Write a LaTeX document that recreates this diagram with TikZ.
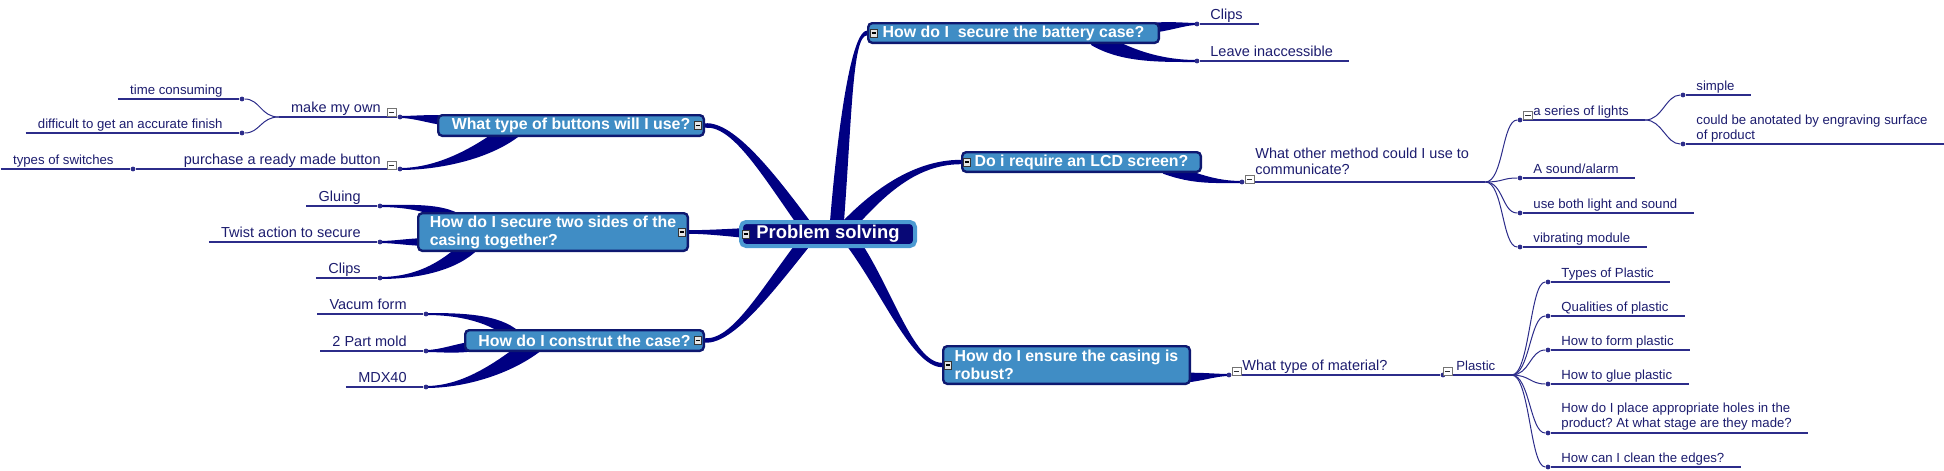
\documentclass[tikz,border=0pt]{standalone}
\usepackage{fontspec}
\setmainfont{Liberation Sans}
\usepackage{tikz}
\usetikzlibrary{calc,backgrounds}
\usepackage{xcolor}
\definecolor{branchcol}{RGB}{0,0,130}
\definecolor{topicfill}{RGB}{64,141,197}
\definecolor{topicedge}{RGB}{14,24,112}
\definecolor{rootfill}{RGB}{8,8,118}
\definecolor{rootedge}{RGB}{76,154,210}
\definecolor{leafcol}{RGB}{28,28,110}
\definecolor{linecol}{RGB}{44,44,138}
\frenchspacing
% tapered branch: start, control, control, end, start half-width, end half-width
\newcommand{\branchfill}[6]{%
  \fill[branchcol] ($(#1)!#5!90:(#2)$) .. controls ($(#2)!#5!-90:(#1)$) and ($(#3)!#6!90:(#4)$) .. ($(#4)!#6!-90:(#3)$)
    -- ($(#4)!#6!90:(#3)$) .. controls ($(#3)!#6!-90:(#4)$) and ($(#2)!#5!90:(#1)$) .. ($(#1)!#5!-90:(#2)$) -- cycle;}
\tikzset{
  % central topic
  rootbox/.style={rectangle, rounded corners=2.5pt, draw=rootedge, line width=2pt, fill=rootfill, text=white,
                  font=\bfseries\fontsize{9.2}{11}\selectfont, minimum width=87pt, minimum height=12pt, inner sep=0.5pt},
  % main topic box
  tbox/.style={rectangle, rounded corners=2pt, draw=topicedge, line width=1.2pt, fill=topicfill, text=white,
               font=\bfseries\fontsize{7.95}{9}\selectfont, minimum height=10.3pt, inner sep=0.5pt, align=left},
  % collapse toggle inside a topic box
  tog/.style={rectangle, draw=black!80, fill=white!90!black, line width=0.35pt, minimum width=3.6pt, minimum height=4pt, inner sep=0pt,
              path picture={\draw[black, line width=0.6pt] ([xshift=0.6pt]path picture bounding box.west) -- ([xshift=-0.6pt]path picture bounding box.east);}},
  % collapse toggle beside a subtopic
  stog/.style={rectangle, draw=black!55, fill=white, line width=0.35pt, minimum width=4.5pt, minimum height=4pt, inner sep=0pt,
               path picture={\draw[black!80, line width=0.5pt] ([xshift=0.9pt]path picture bounding box.west) -- ([xshift=-0.9pt]path picture bounding box.east);}},
  % junction dot
  jn/.style={circle, fill=linecol, inner sep=0pt, minimum size=2.4pt},
  % subtopic texts: l/r = side of the map, sub = second level, leaf = deeper
  lsub/.style={anchor=base east, inner xsep=6pt, inner ysep=0pt, text=leafcol, font=\fontsize{7.25}{8}\selectfont},
  lleaf/.style={lsub, font=\fontsize{6.6}{7.3}\selectfont},
  rsub/.style={anchor=base west, inner xsep=8pt, inner ysep=0pt, text=leafcol, align=left, font=\fontsize{7.25}{8}\selectfont},
  rleaf/.style={rsub, font=\fontsize{6.6}{7.3}\selectfont},
  % underline of a subtopic
  uline/.style={draw=linecol, line width=0.65pt},
  % thin link between subtopics
  twig/.style={draw=linecol, line width=0.5pt},
}

\begin{document}
\begin{tikzpicture}[x=0.5pt, y=-0.5pt]
  \useasboundingbox (0,0) rectangle (1944,471);

  % topics
  \node[rootbox] (root) at (828,234) {Problem solving};
  \node[tbox, minimum width=132.8pt] (buttons) at (571,125.5) {What type of buttons will I use?};
  \node[tbox, minimum width=134.8pt, minimum height=18.8pt] (casing) at (553,232) {How do I secure two sides of the\\casing together?};
  \node[tbox, minimum width=119.3pt] (construt) at (584.5,340.5) {How do I construt the case?};
  \node[tbox, minimum width=145.3pt, minimum height=9.8pt] (battery) at (1013.5,33) {How do I\ \ secure the battery case?};
  \node[tbox, minimum width=119.3pt, minimum height=9.8pt] (lcd) at (1081.5,162) {Do i require an LCD screen?};
  \node[tbox, minimum width=123.3pt, minimum height=18.8pt] (ensure) at (1066.5,365) {How do I ensure the casing is\\robust?};

  % junctions
  \node[jn] (d-time) at (242,99) {};
  \node[jn] (d-diff) at (242,133) {};
  \node[jn] (d-mmo) at (400,117) {};
  \node[jn] (d-purchase) at (400,169) {};
  \node[jn] (d-switch) at (133,169) {};
  \node[jn] (d-gluing) at (380,206) {};
  \node[jn] (d-twist) at (380,242) {};
  \node[jn] (d-clipsL) at (380,278) {};
  \node[jn] (d-vacum) at (426,314) {};
  \node[jn] (d-mold) at (426,351) {};
  \node[jn] (d-mdx) at (426,387) {};
  \node[jn] (d-clipsR) at (1197,24) {};
  \node[jn] (d-leave) at (1197,61) {};
  \node[jn] (d-other) at (1242,182) {};
  \node[jn] (d-series) at (1520,120) {};
  \node[jn] (d-sound) at (1520,178) {};
  \node[jn] (d-both) at (1520,213) {};
  \node[jn] (d-vib) at (1520,247) {};
  \node[jn] (d-simple) at (1683,95) {};
  \node[jn] (d-anot) at (1683,144) {};
  \node[jn] (d-material) at (1229,375) {};
  \node[jn] (d-plastic) at (1443,375) {};
  \node[jn] (d-types) at (1548,282) {};
  \node[jn] (d-qual) at (1548,316) {};
  \node[jn] (d-form) at (1548,350) {};
  \node[jn] (d-glue) at (1548,384) {};
  \node[jn] (d-holes) at (1548,433) {};
  \node[jn] (d-clean) at (1548,467) {};

  % subtopic texts, left
  \node[lsub] (t-mmo) at ($(d-mmo)+(-7,-5)$) {make my own};
  \node[lsub] (t-purchase) at ($(d-purchase)+(-7,-5)$) {purchase a ready made button};
  \node[lleaf] (t-time) at ($(d-time)+(-7,-4.5)$) {time consuming};
  \node[lleaf] (t-diff) at ($(d-diff)+(-7,-4.5)$) {difficult to get an accurate finish};
  \node[lleaf] (t-switch) at ($(d-switch)+(-7,-4.5)$) {types of switches};
  \node[lsub] (t-gluing) at ($(d-gluing)+(-7,-5)$) {Gluing};
  \node[lsub] (t-twist) at ($(d-twist)+(-7,-5)$) {Twist action to secure};
  \node[lsub] (t-clipsL) at ($(d-clipsL)+(-7,-5)$) {Clips};
  \node[lsub] (t-vacum) at ($(d-vacum)+(-7,-5)$) {Vacum form};
  \node[lsub] (t-mold) at ($(d-mold)+(-7,-5)$) {2 Part mold};
  \node[lsub] (t-mdx) at ($(d-mdx)+(-7,-5)$) {MDX40};

  % subtopic texts, right
  \node[rsub] (t-clipsR) at ($(d-clipsR)+(-3,-5)$) {Clips};
  \node[rsub] (t-leave) at ($(d-leave)+(-3,-5)$) {Leave inaccessible};
  \node[rsub, anchor=north west] (t-other) at ($(d-other)+(-3,-34)$) {What other method could I use to\\communicate?};
  \node[rleaf] (t-series) at ($(d-series)+(-3,-4.5)$) {a series of lights};
  \node[rleaf] (t-sound) at ($(d-sound)+(-3,-4.5)$) {A sound/alarm};
  \node[rleaf] (t-both) at ($(d-both)+(-3,-4.5)$) {use both light and sound};
  \node[rleaf] (t-vib) at ($(d-vib)+(-3,-4.5)$) {vibrating module};
  \node[rleaf] (t-simple) at ($(d-simple)+(-3,-4.5)$) {simple};
  \node[rleaf, anchor=north west] (t-anot) at ($(d-anot)+(-3,-29)$) {could be anotated by engraving surface\\of product};
  \node[rsub] (t-material) at ($(d-material)+(-3,-5)$) {What type of material?};
  \node[rleaf] (t-plastic) at ($(d-plastic)+(-3,-4.5)$) {Plastic};
  \node[rleaf] (t-types) at ($(d-types)+(-3,-4.5)$) {Types of Plastic};
  \node[rleaf] (t-qual) at ($(d-qual)+(-3,-4.5)$) {Qualities of plastic};
  \node[rleaf] (t-form) at ($(d-form)+(-3,-4.5)$) {How to form plastic};
  \node[rleaf] (t-glue) at ($(d-glue)+(-3,-4.5)$) {How to glue plastic};
  \node[rleaf, anchor=north west] (t-holes) at ($(d-holes)+(-3,-30)$) {How do I place appropriate holes in the\\product? At what stage are they made?};
  \node[rleaf] (t-clean) at ($(d-clean)+(-3,-4.5)$) {How can I clean the edges?};

  % forks
  \coordinate (f-mmo) at (t-mmo.west |- d-mmo);
  \coordinate (f-other) at (t-other.east |- d-other);
  \coordinate (f-series) at (t-series.east |- d-series);
  \coordinate (f-plastic) at (t-plastic.east |- d-plastic);

  % underlines
  \draw[uline] (f-mmo) -- (d-mmo);
  \draw[uline] (d-switch) -- (d-purchase);
  \draw[uline] (t-time.west |- d-time) -- (d-time);
  \draw[uline] (t-diff.west |- d-diff) -- (d-diff);
  \draw[uline] (t-switch.west |- d-switch) -- (d-switch);
  \draw[uline] (t-gluing.west |- d-gluing) -- (d-gluing);
  \draw[uline] (t-twist.west |- d-twist) -- (d-twist);
  \draw[uline] (t-clipsL.west |- d-clipsL) -- (d-clipsL);
  \draw[uline] (t-vacum.west |- d-vacum) -- (d-vacum);
  \draw[uline] (t-mold.west |- d-mold) -- (d-mold);
  \draw[uline] (t-mdx.west |- d-mdx) -- (d-mdx);
  \draw[uline] (d-clipsR) -- (t-clipsR.east |- d-clipsR);
  \draw[uline] (d-leave) -- (t-leave.east |- d-leave);
  \draw[uline] (d-other) -- (f-other);
  \draw[uline] (d-series) -- (f-series);
  \draw[uline] (d-sound) -- (t-sound.east |- d-sound);
  \draw[uline] (d-both) -- (t-both.east |- d-both);
  \draw[uline] (d-vib) -- (t-vib.east |- d-vib);
  \draw[uline] (d-simple) -- (t-simple.east |- d-simple);
  \draw[uline] (d-anot) -- (t-anot.east |- d-anot);
  \draw[uline] (d-material) -- (d-plastic);
  \draw[uline] (d-plastic) -- (f-plastic);
  \draw[uline] (d-types) -- (t-types.east |- d-types);
  \draw[uline] (d-qual) -- (t-qual.east |- d-qual);
  \draw[uline] (d-form) -- (t-form.east |- d-form);
  \draw[uline] (d-glue) -- (t-glue.east |- d-glue);
  \draw[uline] (d-holes) -- (t-holes.east |- d-holes);
  \draw[uline] (d-clean) -- (t-clean.east |- d-clean);

  % thin links
  \draw[twig] (f-mmo) .. controls +(-18,0) and +(18,0) .. (d-time);
  \draw[twig] (f-mmo) .. controls +(-18,0) and +(18,0) .. (d-diff);
  \draw[twig] (f-other) .. controls +(18,0) and +(-18,0) .. (d-series);
  \draw[twig] (f-other) .. controls +(18,0) and +(-18,0) .. (d-sound);
  \draw[twig] (f-other) .. controls +(18,0) and +(-18,0) .. (d-both);
  \draw[twig] (f-other) .. controls +(18,0) and +(-18,0) .. (d-vib);
  \draw[twig] (f-series) .. controls +(17,0) and +(-17,0) .. (d-simple);
  \draw[twig] (f-series) .. controls +(17,0) and +(-17,0) .. (d-anot);
  \draw[twig] (f-plastic) .. controls +(18,0) and +(-18,0) .. (d-types);
  \draw[twig] (f-plastic) .. controls +(18,0) and +(-18,0) .. (d-qual);
  \draw[twig] (f-plastic) .. controls +(18,0) and +(-18,0) .. (d-form);
  \draw[twig] (f-plastic) .. controls +(18,0) and +(-18,0) .. (d-glue);
  \draw[twig] (f-plastic) .. controls +(18,0) and +(-18,0) .. (d-holes);
  \draw[twig] (f-plastic) .. controls +(18,0) and +(-18,0) .. (d-clean);

  % collapse toggles
  \node[tog] (g-root) at ($(root.west)+(7,0)$) {};
  \node[tog] (g-buttons) at ($(buttons.east)+(-7,0)$) {};
  \node[tog] (g-casing) at ($(casing.east)+(-7,0)$) {};
  \node[tog] (g-construt) at ($(construt.east)+(-7,0)$) {};
  \node[tog] (g-battery) at ($(battery.west)+(7,0)$) {};
  \node[tog] (g-lcd) at ($(lcd.west)+(6,0)$) {};
  \node[tog] (g-ensure) at ($(ensure.west)+(6,0)$) {};
  \node[stog] (g-mmo) at ($(d-mmo)+(-8.5,-5)$) {};
  \node[stog] (g-purchase) at ($(d-purchase)+(-8.5,-4)$) {};
  \node[stog] (g-other) at ($(d-other)+(7.5,-3)$) {};
  \node[stog] (g-series) at ($(d-series)+(8,-5)$) {};
  \node[stog] (g-material) at ($(d-material)+(7.5,-4)$) {};
  \node[stog] (g-plastic) at ($(d-plastic)+(4.5,-4)$) {};

  % branches
  \begin{scope}[on background layer]
    \branchfill{816,240}{772,180}{735,123}{buttons.east}{3.2pt}{1.1pt}
    \branchfill{800,234}{770,234}{720,232}{casing.east}{4pt}{0.9pt}
    \branchfill{816,228}{770,285}{735,342}{construt.east}{3.2pt}{1.1pt}
    \branchfill{836,234}{845,120}{852,33}{battery.west}{3.5pt}{1.2pt}
    \branchfill{835,240}{870,200}{910,162}{lcd.west}{3.5pt}{1.1pt}
    \branchfill{843,230}{882,275}{910,365}{ensure.west}{3.5pt}{1.1pt}
    \branchfill{450,121}{430,119}{415,117}{d-mmo}{2.5pt}{0.5pt}
    \branchfill{515,128}{485,152}{440,169}{d-purchase}{4.5pt}{0.5pt}
    \branchfill{458,220}{438,208}{410,206}{d-gluing}{3pt}{0.5pt}
    \branchfill{430,242}{410,242}{395,242}{d-twist}{2pt}{0.5pt}
    \branchfill{472,244}{452,264}{420,278}{d-clipsL}{4pt}{0.5pt}
    \branchfill{515,336}{495,318}{460,314}{d-vacum}{3pt}{0.5pt}
    \branchfill{475,346}{455,349}{440,351}{d-mold}{2.5pt}{0.5pt}
    \branchfill{535,344}{505,367}{465,387}{d-mdx}{4.5pt}{0.5pt}
    \branchfill{1150,28}{1170,26}{1185,24}{d-clipsR}{2.5pt}{0.5pt}
    \branchfill{1095,38}{1125,56}{1160,61}{d-leave}{4pt}{0.5pt}
    \branchfill{1165,168}{1195,179}{1215,182}{d-other}{3pt}{0.5pt}
    \branchfill{1180,378}{1200,377}{1215,375}{d-material}{2.5pt}{0.5pt}
  \end{scope}
\end{tikzpicture}
\end{document}
